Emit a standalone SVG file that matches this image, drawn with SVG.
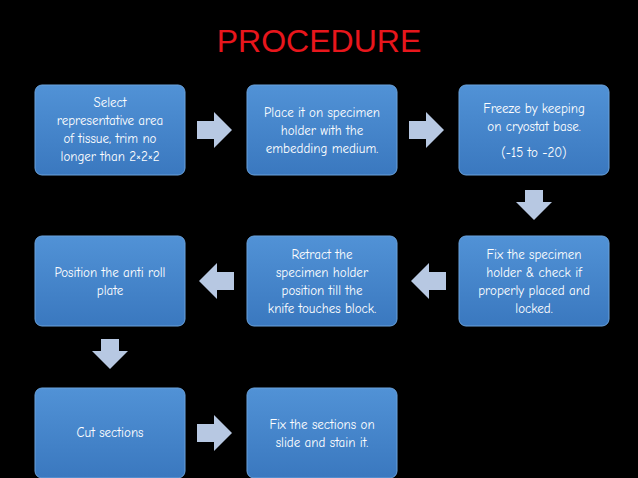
<svg xmlns="http://www.w3.org/2000/svg" width="638" height="478" viewBox="0 0 638 478">
<defs>
<linearGradient id="g" x1="0" y1="0" x2="0" y2="1"><stop offset="0" stop-color="#5192d6"/><stop offset="1" stop-color="#3a78bf"/></linearGradient>
<style>
.b{fill:url(#g);stroke:#6aa2dc;stroke-width:1}
.t{font-family:"Comic Neue","DejaVu Sans",sans-serif;font-size:13px;fill:#fff;text-anchor:middle}
.a{fill:#b7c8e2}
</style>
</defs>
<rect width="638" height="478" fill="#000"/>
<text x="319" y="52" font-family="'Liberation Sans',sans-serif" font-size="32" fill="#e8161c" text-anchor="middle">PROCEDURE</text>
<g id="n1"><rect class="b" x="35" y="85" width="150" height="90" rx="7"/><text class="t" x="110" y="107">Select</text><text class="t" x="110" y="125">representative area</text><text class="t" x="110" y="143">of tissue, trim no</text><text class="t" x="110" y="161">longer than 2×2×2</text></g>
<g id="n2"><rect class="b" x="247" y="85" width="150" height="90" rx="7"/><text class="t" x="322" y="117">Place it on specimen</text><text class="t" x="322" y="135">holder with the</text><text class="t" x="322" y="153">embedding medium.</text></g>
<g id="n3"><rect class="b" x="459" y="85" width="150" height="90" rx="7"/><text class="t" x="534" y="113">Freeze by keeping</text><text class="t" x="534" y="131">on cryostat base.</text><text class="t" x="534" y="157">(-15 to -20)</text></g>
<g id="n4"><rect class="b" x="459" y="236" width="150" height="90" rx="7"/><text class="t" x="534" y="259">Fix the specimen</text><text class="t" x="534" y="277">holder &amp; check if</text><text class="t" x="534" y="295">properly placed and</text><text class="t" x="534" y="313">locked.</text></g>
<g id="n5"><rect class="b" x="247" y="236" width="150" height="90" rx="7"/><text class="t" x="322" y="259">Retract the</text><text class="t" x="322" y="277">specimen holder</text><text class="t" x="322" y="295">position till the</text><text class="t" x="322" y="313">knife touches block.</text></g>
<g id="n6"><rect class="b" x="35" y="236" width="150" height="90" rx="7"/><text class="t" x="110" y="277">Position the anti roll</text><text class="t" x="110" y="295">plate</text></g>
<g id="n7"><rect class="b" x="35" y="388" width="150" height="90" rx="7"/><text class="t" x="110" y="437">Cut sections</text></g>
<g id="n8"><rect class="b" x="247" y="388" width="150" height="90" rx="7"/><text class="t" x="322" y="429">Fix the sections on</text><text class="t" x="322" y="447">slide and stain it.</text></g>
<g id="connectors">
<polygon class="a" points="197,121 214,121 214,112 232,130 214,148 214,139 197,139"/>
<polygon class="a" points="409,121 426,121 426,112 444,130 426,148 426,139 409,139"/>
<polygon class="a" points="525,190 543,190 543,202 552,202 534,220 516,202 525,202"/>
<polygon class="a" points="446,272 429,272 429,263 411,281 429,299 429,290 446,290"/>
<polygon class="a" points="234,272 217,272 217,263 199,281 217,299 217,290 234,290"/>
<polygon class="a" points="101,339 119,339 119,351 128,351 110,369 92,351 101,351"/>
<polygon class="a" points="197,424 214,424 214,415 232,433 214,451 214,442 197,442"/>
</g>
</svg>
